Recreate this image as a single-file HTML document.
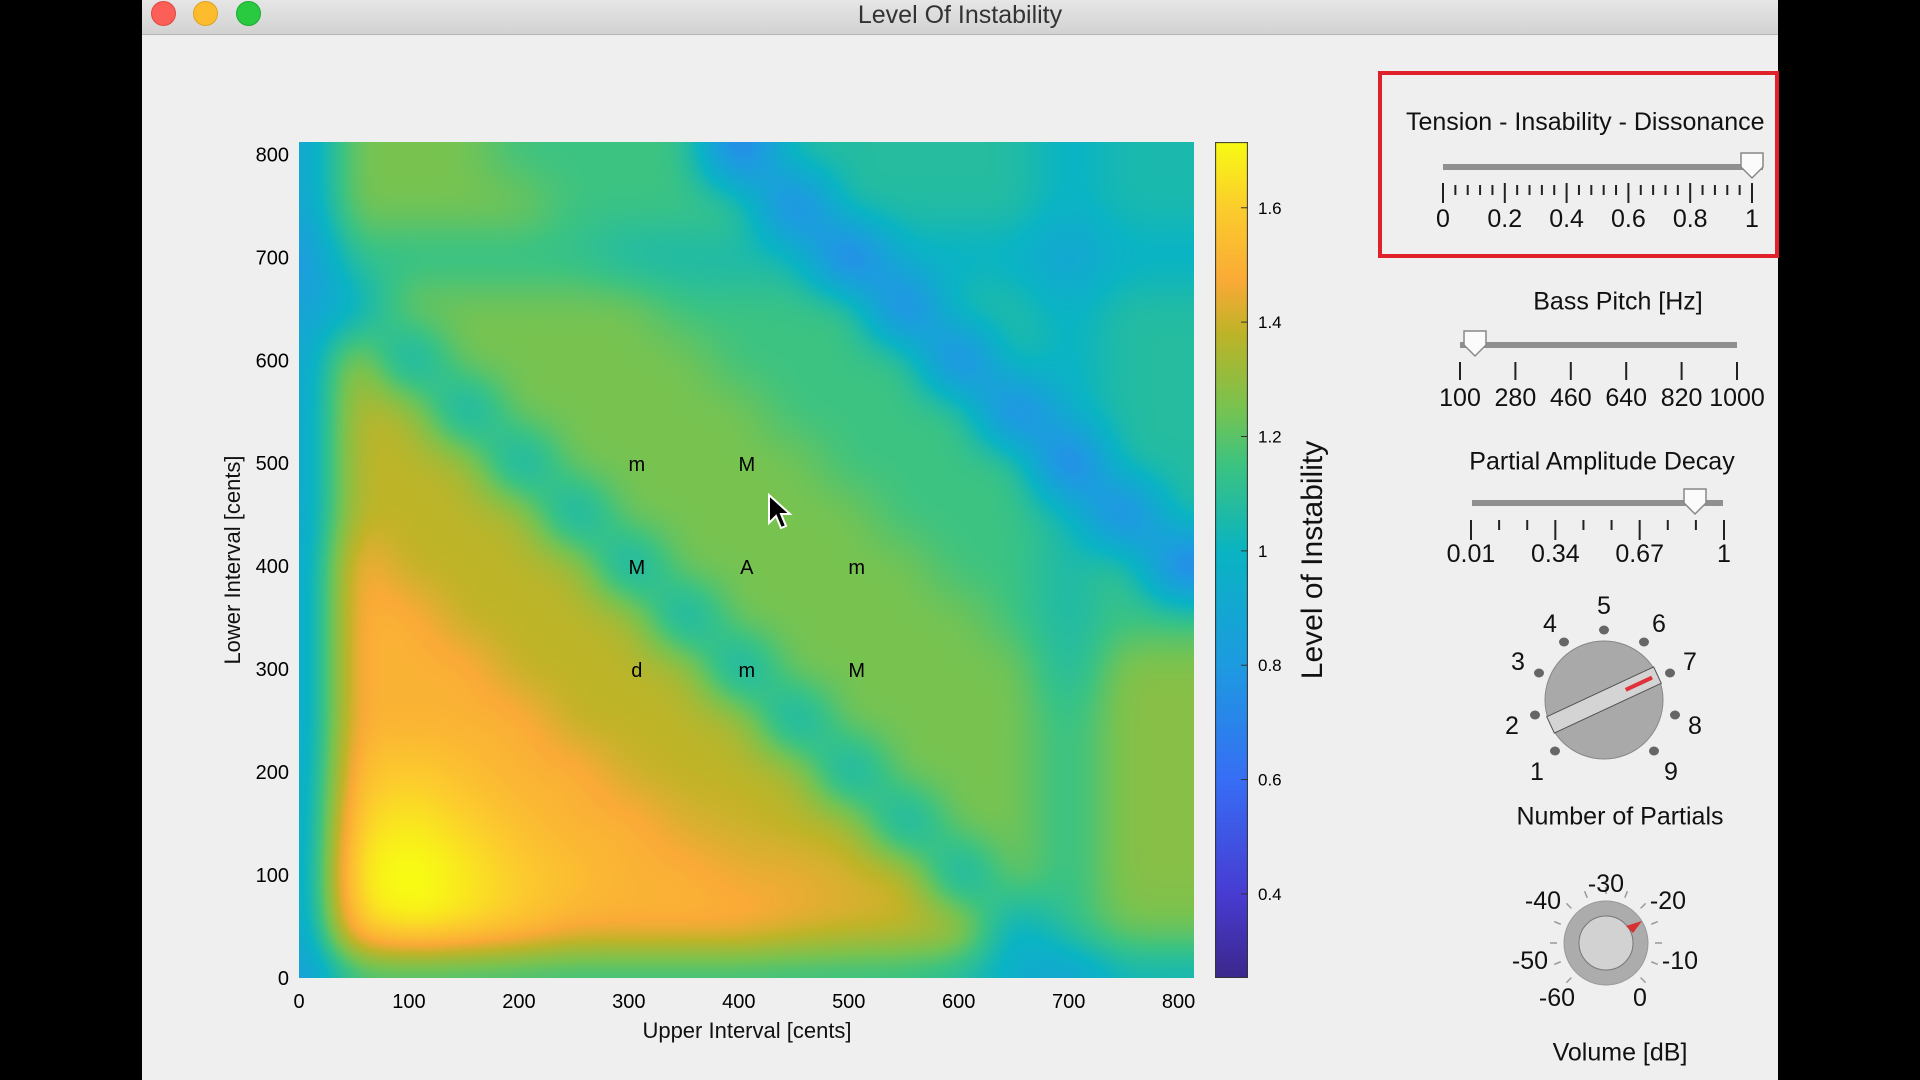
<!DOCTYPE html>
<html><head><meta charset="utf-8">
<style>
*{margin:0;padding:0;box-sizing:border-box}
body{width:1920px;height:1080px;background:#000;position:relative;overflow:hidden;font-family:"Liberation Sans",sans-serif;color:#111}
#win{position:absolute;left:142px;top:0;width:1636px;height:1080px;background:#efefef}
#titlebar{position:absolute;left:0;top:0;width:1636px;height:35px;background:linear-gradient(#e6e6e6,#d2d2d2);border-bottom:1px solid #b5b5b5;text-align:center;font-size:25px;line-height:30px;color:#333}
.tl{position:absolute;top:1px;width:25px;height:25px;border-radius:50%}
.t{position:absolute;white-space:nowrap}
.lab{position:absolute;white-space:nowrap;transform:translate(-50%,-50%)}
</style></head><body>
<div id="win">
<div id="titlebar">Level Of Instability
<div class="tl" style="left:9px;background:#fc5f57;border:1px solid #de4a42"></div>
<div class="tl" style="left:51px;background:#fdbc2e;border:1px solid #dea123"></div>
<div class="tl" style="left:94px;background:#29c940;border:1px solid #1eab31"></div>
</div>
</div>
<canvas id="hm" width="895" height="836" style="position:absolute;left:299px;top:142px"></canvas>
<canvas id="cb" width="33" height="836" style="position:absolute;left:1215px;top:142px"></canvas>
<svg id="ov" width="1920" height="1080" style="position:absolute;left:0;top:0"></svg>

<div class="lab" style="left:747px;top:1031px;font-size:22px">Upper Interval [cents]</div>
<div class="lab" style="left:233px;top:560px;font-size:22px;transform:translate(-50%,-50%) rotate(-90deg)">Lower Interval [cents]</div>
<div class="lab" style="left:1313px;top:560px;font-size:30px;transform:translate(-50%,-50%) rotate(-90deg)">Level of Instability</div>

<svg style="position:absolute;left:767px;top:493px" width="30" height="40"><path d="M2 2 L2 30 L9 23 L14 35 L19 33 L14 21 L23 21 Z" fill="#000" stroke="#fff" stroke-width="2"/></svg>

<div style="position:absolute;left:1378px;top:71px;width:401px;height:187px;border:4px solid #e0202a"></div>
<div class="t" style="left:1406px;top:108px;font-size:25px">Tension - Insability - Dissonance</div>
<svg style="position:absolute;left:0;top:0" width="1920" height="1080" id="ctl"></svg>
<div class="lab" style="left:1618px;top:302px;font-size:25px">Bass Pitch [Hz]</div>
<div class="lab" style="left:1602px;top:462px;font-size:25px">Partial Amplitude Decay</div>
<div class="lab" style="left:1620px;top:817px;font-size:25px">Number of Partials</div>
<div class="lab" style="left:1620px;top:1053px;font-size:25px">Volume [dB]</div>

<script>
// ---- data ----
const xCents=[0,50,100,150,200,250,300,350,400,450,500,550,600,650,700,750,800];
const yCents=[800,750,700,650,600,550,500,450,400,350,300,250,200,150,100,50,0];
const instab=[
[.85,1.25,1.25,1.25,1.15,1.15,1.15,1.15,.6,1.08,1.08,1.08,1.08,1.08,.98,1.05,1.05],
[.85,1.25,1.25,1.25,1.25,1.15,1.15,1.15,1.15,.6,1.08,1.08,1.08,1.08,.98,1.05,1.05],
[.75,1.12,1.12,1.12,1.12,1.12,1.05,1.05,1.05,1.05,.55,.98,.98,.98,.85,.98,.98],
[.85,.95,1.25,1.25,1.25,1.25,1.25,1.15,1.15,1.15,1.15,.6,1.08,1.08,.98,1.08,1.08],
[.85,1.35,.95,1.25,1.25,1.25,1.25,1.25,1.15,1.15,1.15,1.15,.6,1.08,.98,1.08,1.08],
[.85,1.38,1.35,.95,1.25,1.25,1.25,1.25,1.25,1.15,1.15,1.15,1.15,.6,.98,1.08,1.08],
[.85,1.38,1.38,1.35,.95,1.25,1.25,1.25,1.25,1.25,1.15,1.15,1.15,1.15,.55,1.08,1.08],
[.85,1.38,1.38,1.38,1.35,.95,1.25,1.25,1.25,1.25,1.25,1.15,1.15,1.15,1.05,.6,1.08],
[.85,1.5,1.38,1.38,1.38,1.35,.95,1.25,1.25,1.25,1.25,1.25,1.15,1.15,1.05,1.15,.6],
[.85,1.5,1.5,1.38,1.38,1.38,1.35,.95,1.25,1.25,1.25,1.25,1.25,1.15,1.05,1.15,1.15],
[.85,1.5,1.5,1.5,1.38,1.38,1.38,1.35,.95,1.25,1.25,1.25,1.25,1.25,1.05,1.28,1.28],
[.85,1.5,1.5,1.5,1.5,1.38,1.38,1.38,1.35,.95,1.25,1.25,1.25,1.25,1.12,1.28,1.28],
[.85,1.55,1.6,1.55,1.5,1.5,1.4,1.38,1.38,1.35,.95,1.25,1.25,1.25,1.12,1.28,1.28],
[.85,1.62,1.68,1.62,1.55,1.5,1.5,1.42,1.4,1.38,1.35,.95,1.25,1.25,1.12,1.28,1.28],
[.85,1.68,1.75,1.68,1.6,1.55,1.5,1.5,1.45,1.45,1.42,1.4,.95,1.25,1.12,1.28,1.28],
[.85,1.6,1.7,1.65,1.58,1.5,1.5,1.5,1.5,1.45,1.42,1.4,1.38,.95,1.12,1.25,1.25],
[.8,1.1,1.1,1.1,1.1,1.1,1.1,1.1,1.1,1.1,1.1,1.1,1.05,.95,.85,1.0,1.0]
];
const xTicks=[0,100,200,300,400,500,600,700,800];
const yTicks=[0,100,200,300,400,500,600,700,800];
const cbTicks=[0.4,0.6,0.8,1,1.2,1.4,1.6];
const chordLabels=["m","M","M","A","m","d","m","M"];
const chordX=[300,400,300,400,500,300,400,500];
const chordY=[500,500,400,400,400,300,300,300];

// ---- axes ----
const PX=299,PY=142,PW=895,PH=836;
const xMax=814,yMax=812,vMin=0.253,vMax=1.715;
const sx=c=>PX+c/xMax*PW;
const sy=c=>PY+PH-c/yMax*PH;
const stops=[[0.253,60,40,140],[0.4,72,60,210],[0.6,55,110,245],[0.8,30,155,225],[1.0,10,180,195],[1.15,60,195,130],[1.25,120,195,80],[1.38,190,180,40],[1.47,250,170,55],[1.6,252,205,45],[1.715,248,250,20]];
function cmap(v){v=Math.max(vMin,Math.min(vMax,v));
for(let i=1;i<stops.length;i++){if(v<=stops[i][0]){const a=stops[i-1],b=stops[i],f=(v-a[0])/(b[0]-a[0]);return [a[1]+(b[1]-a[1])*f,a[2]+(b[2]-a[2])*f,a[3]+(b[3]-a[3])*f];}}return stops[stops.length-1].slice(1);}
function sample(cx,cy){
 const step=xCents[1]-xCents[0];
 let fx=Math.min(cx,800)/step, fy=(800-Math.min(cy,800))/step;
 let i=Math.min(Math.floor(fx),15),j=Math.min(Math.floor(fy),15);
 let u=fx-i,w=fy-j;
 const a=instab[j][i],b=instab[j][i+1],c=instab[j+1][i],d=instab[j+1][i+1];
 return a*(1-u)*(1-w)+b*u*(1-w)+c*(1-u)*w+d*u*w;}
let F=new Float32Array(PW*PH);
for(let py=0;py<PH;py++){const cy=(PH-py)/PH*yMax;
 for(let px=0;px<PW;px++){F[py*PW+px]=sample(px/PW*xMax,cy);}}
function blurH(A,r){const B=new Float32Array(A.length);for(let y=0;y<PH;y++){const o=y*PW;for(let x=0;x<PW;x++){let s=0,n=0;for(let k=-r;k<=r;k+=2){let xx=Math.max(0,Math.min(PW-1,x+k));s+=A[o+xx];n++;}B[o+x]=s/n;}}return B;}
function blurV(A,r){const B=new Float32Array(A.length);for(let y=0;y<PH;y++){for(let x=0;x<PW;x++){let s=0,n=0;for(let k=-r;k<=r;k+=2){let yy=Math.max(0,Math.min(PH-1,y+k));s+=A[yy*PW+x];n++;}B[y*PW+x]=s/n;}}return B;}
F=blurV(blurH(F,22),22);F=blurV(blurH(F,14),14);F=blurV(blurH(F,8),8);
const hm=document.getElementById('hm').getContext('2d');
const img=hm.createImageData(PW,PH);
for(let p=0;p<PW*PH;p++){const c=cmap(F[p]);const k=p*4;img.data[k]=c[0];img.data[k+1]=c[1];img.data[k+2]=c[2];img.data[k+3]=255;}
hm.putImageData(img,0,0);
const cb=document.getElementById('cb').getContext('2d');
for(let py=0;py<PH;py++){const v=vMax-(py/PH)*(vMax-vMin);const c=cmap(v);cb.fillStyle=`rgb(${c[0]|0},${c[1]|0},${c[2]|0})`;cb.fillRect(0,py,33,1);}
cb.strokeStyle='#333';cb.strokeRect(0.5,0.5,32,PH-1);

const NS='http://www.w3.org/2000/svg';
function mk(p,tag,attrs,txt){const e=document.createElementNS(NS,tag);for(const k in attrs)e.setAttribute(k,attrs[k]);if(txt!==undefined)e.textContent=txt;p.appendChild(e);return e;}
const ov=document.getElementById('ov');
xTicks.forEach(v=>{const t=mk(ov,'text',{x:sx(v),y:1008,'font-size':20,'text-anchor':'middle','font-family':'Liberation Sans'},v);

});
yTicks.forEach(v=>{const t=mk(ov,'text',{x:289,y:sy(v)+7,'font-size':20,'text-anchor':'end','font-family':'Liberation Sans'},v);

});
const cbY=v=>PY+(vMax-v)/(vMax-vMin)*PH;
cbTicks.forEach(v=>{mk(ov,'line',{x1:1241,x2:1248,y1:cbY(v),y2:cbY(v),stroke:'#333'});
const t=mk(ov,'text',{x:1258,y:cbY(v)+6,'font-size':17,'font-family':'Liberation Sans'},v);

});
chordLabels.forEach((l,i)=>{const t=mk(ov,'text',{x:sx(chordX[i])+8,y:sy(chordY[i])+8,'font-size':20,'text-anchor':'middle','font-family':'Liberation Sans'},l);

});

// ---- controls ----
const ctl=document.getElementById('ctl');
function txt(x,y,s,size,name){const t=mk(ctl,'text',{x:x,y:y,'font-size':size||24,'text-anchor':'middle','font-family':'Liberation Sans',fill:'#111'},s);

}
function slider(x0,x1,y,thumb,name){const g=mk(ctl,'g',{});


mk(g,'rect',{x:x0,y:y-3,width:x1-x0,height:6,fill:'#8f8f8f'});
mk(g,'path',{d:`M${thumb-11} ${y-14} h22 v14 l-11 11 l-11 -11 z`,fill:'#fbfbfb',stroke:'#888','stroke-width':1.5});}
slider(1443,1763,167,1752,'tension-slider');
for(let i=0;i<=25;i++){const x=1443+i*(1752-1443)/25;const maj=i%5==0;mk(ctl,'line',{x1:x,x2:x,y1:maj?183:185,y2:maj?203:195,stroke:'#222','stroke-width':2});}
['0','0.2','0.4','0.6','0.8','1'].forEach((s,i)=>txt(1443+i*(1752-1443)/5,227,s,25,'tension-tick-label'));
slider(1460,1737,345,1475,'bass-pitch-slider');
['100','280','460','640','820','1000'].forEach((s,i)=>{const x=1460+i*(1737-1460)/5;mk(ctl,'line',{x1:x,x2:x,y1:362,y2:380,stroke:'#222','stroke-width':2});txt(x,406,s,25,'bass-tick-label');});
slider(1472,1723,503,1695,'decay-slider');
for(let i=0;i<=9;i++){const x=1471+i*(1724-1471)/9;const maj=i%3==0;mk(ctl,'line',{x1:x,x2:x,y1:520,y2:maj?540:530,stroke:'#222','stroke-width':2});}
['0.01','0.34','0.67','1'].forEach((s,i)=>txt(1471+i*(1724-1471)/3,562,s,25,'decay-tick-label'));
const k1=mk(ctl,'g',{});


const kx=1604,ky=700;
const dots=[[1555,751],[1535,715],[1539,673],[1564,642],[1604,630],[1644,642],[1670,673],[1675,715],[1654,751]];
const lbl=[[1537,780],[1512,734],[1518,670],[1550,632],[1604,614],[1659,632],[1690,670],[1695,734],[1671,780]];
dots.forEach((d,i)=>{mk(k1,'ellipse',{cx:d[0],cy:d[1],rx:5,ry:4.5,fill:'#666'});txt(lbl[i][0],lbl[i][1],i+1,25,'partials-label');});
mk(k1,'circle',{cx:kx,cy:ky,r:59,fill:'#a9a9a9',stroke:'#888'});
const gg=mk(k1,'g',{transform:`rotate(-25 ${kx} ${ky})`});
mk(gg,'rect',{x:kx-59,y:ky-9,width:118,height:18,fill:'#d4d4d4',stroke:'#555','stroke-width':1});
mk(gg,'line',{x1:kx+24,x2:kx+53,y1:ky,y2:ky,stroke:'#e0303a','stroke-width':4});
const k2=mk(ctl,'g',{});


const vx=1606,vy=943;
for(let i=0;i<13;i++){const a=(-135+i*22.5)*Math.PI/180;mk(k2,'line',{x1:vx+49*Math.sin(a),y1:vy-49*Math.cos(a),x2:vx+56*Math.sin(a),y2:vy-56*Math.cos(a),stroke:'#999','stroke-width':1.5});}
mk(k2,'circle',{cx:vx,cy:vy,r:42,fill:'#acacac',stroke:'#999'});
mk(k2,'circle',{cx:vx,cy:vy,r:27,fill:'#d2d2d2',stroke:'#777'});
mk(k2,'path',{d:`M${vx+27} ${vy-10} L${vx+36} ${vy-22} L${vx+20} ${vy-17} Z`,fill:'#d63030'});
[['-60',1557,1006],['-50',1530,969],['-40',1543,909],['-30',1606,892],['-20',1668,909],['-10',1680,969],['0',1640,1006]].forEach(a=>txt(a[1],a[2],a[0],25,'volume-label'));
</script>
</body></html>
